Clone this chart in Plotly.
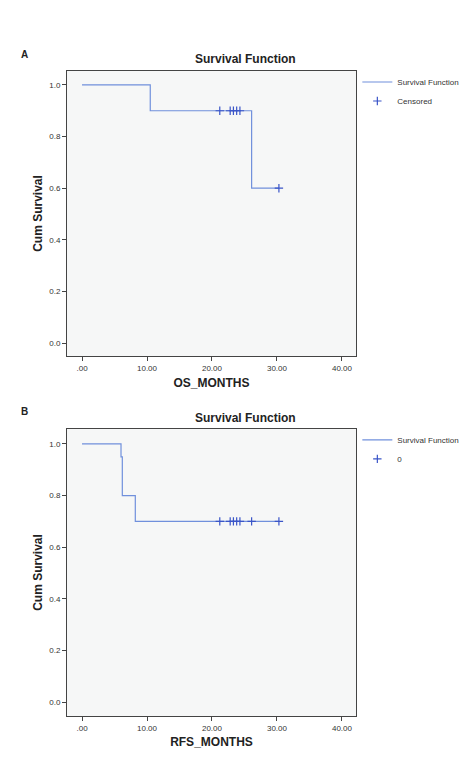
import plotly.graph_objects as go

# Panel A (OS)
os_step_x = [0, 10.5, 10.5, 26.1, 26.1, 30.3]
os_step_y = [1.0, 1.0, 0.9, 0.9, 0.6, 0.6]
os_cens_x = [21.2, 22.8, 23.3, 23.8, 24.3, 30.3]
os_cens_y = [0.9, 0.9, 0.9, 0.9, 0.9, 0.6]
# Panel B (RFS)
rfs_step_x = [0, 6.0, 6.0, 6.2, 6.2, 8.2, 8.2, 30.3]
rfs_step_y = [1.0, 1.0, 0.95, 0.95, 0.8, 0.8, 0.7, 0.7]
rfs_cens_x = [21.2, 22.8, 23.3, 23.8, 24.3, 26.1, 30.3]
rfs_cens_y = [0.7] * 7

xticks = [0, 10, 20, 30, 40]
xtick_labels = [".00", "10.00", "20.00", "30.00", "40.00"]
yticks = [0, 0.2, 0.4, 0.6, 0.8, 1.0]
ytick_labels = ["0.0", "0.2", "0.4", "0.6", "0.8", "1.0"]

LINE = "#7090dc"
MARK = "#3a55c8"
fig = go.Figure()
fig.add_trace(go.Scatter(x=os_step_x, y=os_step_y, mode="lines", line=dict(color=LINE, width=1.2),
                         name="Survival Function", legend="legend", xaxis="x", yaxis="y"))
fig.add_trace(go.Scatter(x=os_cens_x, y=os_cens_y, mode="markers",
                         marker=dict(symbol="cross-thin", size=6, line=dict(color=MARK, width=1.2)),
                         name="Censored", legend="legend", xaxis="x", yaxis="y"))
fig.add_trace(go.Scatter(x=rfs_step_x, y=rfs_step_y, mode="lines", line=dict(color=LINE, width=1.2),
                         name="Survival Function", legend="legend2", xaxis="x2", yaxis="y2"))
fig.add_trace(go.Scatter(x=rfs_cens_x, y=rfs_cens_y, mode="markers",
                         marker=dict(symbol="cross-thin", size=6, line=dict(color=MARK, width=1.2)),
                         name="0", legend="legend2", xaxis="x2", yaxis="y2"))

ax = dict(showgrid=False, zeroline=False, showline=True, linecolor="#444", linewidth=1, mirror=True,
          ticks="outside", ticklen=4, tickcolor="#444", tickfont=dict(size=8, color="#333"))
xr = [-2.31, 42.15]
fig.update_layout(
    width=474, height=773, margin=dict(l=0, r=0, t=0, b=0),
    paper_bgcolor="white", plot_bgcolor="#f6f7f7",
    font=dict(family="Liberation Sans, Arial", color="#222"),
    xaxis=dict(**ax, domain=[0.1245, 0.734], range=xr, tickvals=xticks, ticktext=xtick_labels, anchor="y",
               title=dict(text="<b>OS_MONTHS</b>", font=dict(size=12), standoff=6)),
    yaxis=dict(**ax, domain=[0.5498, 0.9185], range=[-0.05, 1.054], tickvals=yticks, ticktext=ytick_labels, anchor="x",
               title=dict(text="<b>Cum Survival</b>", font=dict(size=12), standoff=4)),
    xaxis2=dict(**ax, domain=[0.1245, 0.734], range=xr, tickvals=xticks, ticktext=xtick_labels, anchor="y2",
                title=dict(text="<b>RFS_MONTHS</b>", font=dict(size=12), standoff=6)),
    yaxis2=dict(**ax, domain=[0.0841, 0.4554], range=[-0.054, 1.058], tickvals=yticks, ticktext=ytick_labels, anchor="x2",
                title=dict(text="<b>Cum Survival</b>", font=dict(size=12), standoff=4)),
    legend=dict(x=0.737, y=0.923, xanchor="left", yanchor="top", font=dict(size=8, color="#333"),
                bgcolor="rgba(0,0,0,0)", tracegroupgap=0, itemwidth=30),
    legend2=dict(x=0.737, y=0.460, xanchor="left", yanchor="top", font=dict(size=8, color="#333"),
                 bgcolor="rgba(0,0,0,0)", tracegroupgap=0, itemwidth=30),
    annotations=[
        dict(text="<b>Survival Function</b>", x=0.502, y=0.922, xref="paper", yref="paper", showarrow=False,
             xanchor="center", yanchor="bottom", font=dict(size=12)),
        dict(text="<b>Survival Function</b>", x=0.502, y=0.458, xref="paper", yref="paper", showarrow=False,
             xanchor="center", yanchor="bottom", font=dict(size=12)),
        dict(text="<b>A</b>", x=0.035, y=0.94, xref="paper", yref="paper", showarrow=False,
             xanchor="center", yanchor="middle", font=dict(size=10)),
        dict(text="<b>B</b>", x=0.035, y=0.478, xref="paper", yref="paper", showarrow=False,
             xanchor="center", yanchor="middle", font=dict(size=10)),
    ],
)
fig.write_html("out.html")
